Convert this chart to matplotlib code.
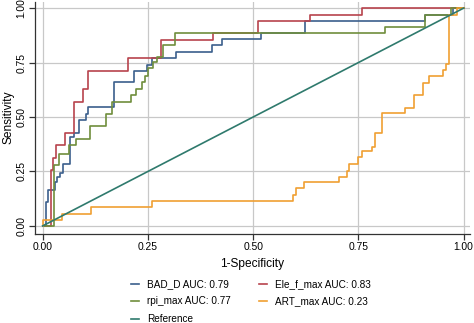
import matplotlib
matplotlib.use("Agg")
import matplotlib.pyplot as plt

plt.rcParams['font.family'] = ['Liberation Sans', 'DejaVu Sans']

# ---- data ----
bad_fpr = [0, 0.007, 0.013, 0.029, 0.035, 0.041, 0.049, 0.065, 0.074, 0.086, 0.103, 0.108,
           0.170, 0.217, 0.247, 0.259, 0.318, 0.403, 0.425, 0.518, 0.623, 0.908, 0.975, 1.0]
bad_tpr = [0, 0.111, 0.165, 0.203, 0.225, 0.243, 0.284, 0.41, 0.428, 0.486, 0.512, 0.545,
           0.659, 0.713, 0.739, 0.769, 0.8, 0.83, 0.857, 0.884, 0.942, 0.969, 1.0, 1.0]

ele_fpr = [0, 0.019, 0.024, 0.033, 0.053, 0.074, 0.095, 0.108, 0.203, 0.281, 0.404,
           0.512, 0.635, 0.759, 1.0]
ele_tpr = [0, 0.257, 0.31, 0.372, 0.428, 0.571, 0.627, 0.713, 0.769, 0.853, 0.884,
           0.942, 0.969, 1.0, 1.0]

rpi_fpr = [0, 0.027, 0.04, 0.062, 0.080, 0.113, 0.150, 0.164, 0.211, 0.223, 0.235, 0.243,
           0.251, 0.262, 0.272, 0.286, 0.315, 0.813, 0.909, 0.97, 1.0]
rpi_tpr = [0, 0.28, 0.33, 0.37, 0.40, 0.457, 0.514, 0.57, 0.601, 0.627, 0.66, 0.69,
           0.723, 0.754, 0.777, 0.83, 0.884, 0.914, 0.969, 1.0, 1.0]

art_fpr = [0, 0, 0.047, 0.114, 0.259, 0.594, 0.601, 0.621, 0.705, 0.722, 0.728, 0.75, 0.758,
           0.782, 0.79, 0.806, 0.861, 0.882, 0.903, 0.918, 0.95, 0.958, 0.964, 0.983, 1.0]
art_tpr = [0, 0.028, 0.057, 0.087, 0.116, 0.142, 0.173, 0.2, 0.226, 0.254, 0.284, 0.315, 0.344,
           0.364, 0.425, 0.517, 0.543, 0.601, 0.655, 0.688, 0.716, 0.743, 0.968, 1.0, 1.0]

ref_x = [0, 1]
ref_y = [0, 1]

labels = ["BAD_D AUC: 0.79", "Ele_f_max AUC: 0.83", "rpi_max AUC: 0.77",
          "ART_max AUC: 0.23", "Reference"]
ticks = [0, 0.25, 0.5, 0.75, 1.0]
tick_labels = ["0.00", "0.25", "0.50", "0.75", "1.00"]

c_blue = "#3b5f8c"
c_red = "#b8434d"
c_green = "#6f8e3c"
c_orange = "#f0a032"
c_teal = "#2f7a6d"

fig = plt.figure(figsize=(4.74, 3.23), dpi=100)
ax = fig.add_axes([35/474, 89/323, 435/474, 232/323])

lw = 1.2
l_bad, = ax.plot(bad_fpr, bad_tpr, drawstyle='steps-post', color=c_blue, lw=lw, zorder=3)
l_ele, = ax.plot(ele_fpr, ele_tpr, drawstyle='steps-post', color=c_red, lw=lw, zorder=3)
l_rpi, = ax.plot(rpi_fpr, rpi_tpr, drawstyle='steps-post', color=c_green, lw=lw, zorder=4)
l_art, = ax.plot(art_fpr, art_tpr, drawstyle='steps-post', color=c_orange, lw=lw, zorder=4)
l_ref, = ax.plot(ref_x, ref_y, color=c_teal, lw=lw, zorder=5)

ax.set_xlim(-0.018, 1.015)
ax.set_ylim(-0.037, 1.028)
ax.set_xticks(ticks)
ax.set_xticklabels(tick_labels)
ax.set_yticks(ticks)
ax.set_yticklabels(tick_labels, rotation=90, va='center')
ax.tick_params(axis='both', labelsize=7.4, length=4, width=0.9, color='#333333', pad=2)
ax.grid(True, color='#c8c8c8', lw=0.9)
ax.set_axisbelow(True)
for s in ['top', 'right']:
    ax.spines[s].set_visible(False)
for s in ['left', 'bottom']:
    ax.spines[s].set_color('#333333')
    ax.spines[s].set_linewidth(0.9)

ax.set_xlabel("1-Specificity", fontsize=8.6, labelpad=4)
ax.set_ylabel("Sensitivity", fontsize=8.6, va='center')
ax.yaxis.set_label_coords((9 - 35) / 435, (234 - 117) / 232)

handles = [l_bad, l_rpi, l_ref, l_ele, l_art]
hl = [labels[0], labels[2], labels[4], labels[1], labels[3]]
fig.legend(handles, hl, ncol=2, loc='upper left', bbox_to_anchor=(131/474, 1 - 279/323),
           frameon=False, fontsize=7.2, handlelength=0.8, handletextpad=0.8,
           columnspacing=2.8, labelspacing=0.75, borderpad=0, borderaxespad=0)

fig.savefig("out.png", dpi=100)
